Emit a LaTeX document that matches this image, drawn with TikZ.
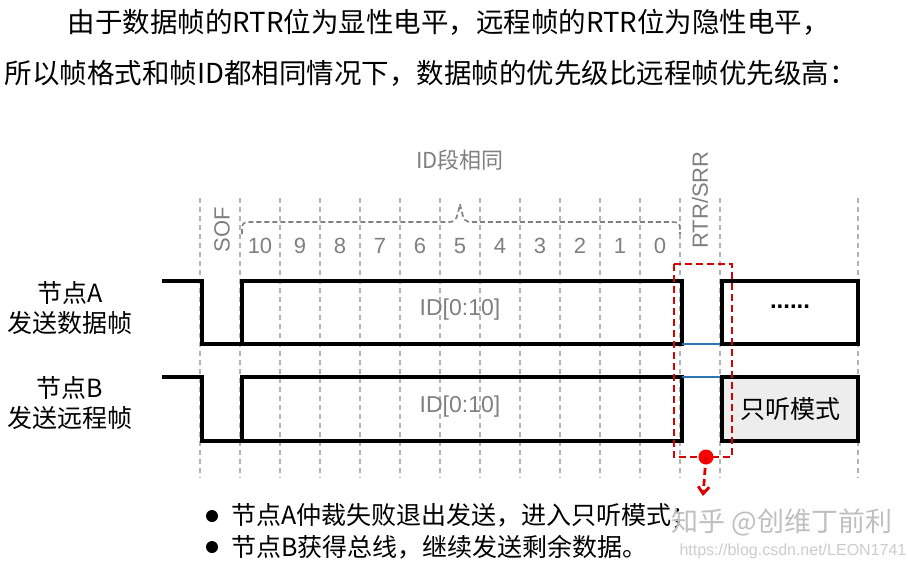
\documentclass[tikz,border=0pt]{standalone}
\usepackage{fontspec}
\setmainfont{Liberation Sans}
\newfontfamily\cjk{Noto Sans CJK SC}
\usetikzlibrary{arrows.meta}
\definecolor{lineblue}{RGB}{46,117,182}
\begin{document}
\begin{tikzpicture}[x=1pt,y=-1pt,
  grid/.style={draw=black!30,dash pattern=on 5pt off 4pt,line width=1.4pt},
  wave/.style={draw=black,line width=3.6pt,line join=miter},
  lbl/.style={font=\fontsize{25}{30}\selectfont\cjk},
  gtxt/.style={text=black!50,font=\fontsize{22}{24}\selectfont},
  redd/.style={draw=red!85!black,dash pattern=on 7pt off 4pt,line width=2.8pt}]
\useasboundingbox (0,0) rectangle (908,568);
\fill[white] (0,0) rectangle (908,568);
% title
\node[lbl,font=\fontsize{27.5}{30}\selectfont\cjk,anchor=west] (t1) at (64,22) {由于数据帧的RTR位为显性电平，远程帧的RTR位为隐性电平，};
\node[lbl,font=\fontsize{27.5}{30}\selectfont\cjk,anchor=west] (t2) at (1,73) {所以帧格式和帧ID都相同情况下，数据帧的优先级比远程帧优先级高：};
% grid
\foreach \x in {200,240,...,720,858} \draw[grid] (\x,198) -- (\x,478);
% bit labels
\foreach \n [count=\i from 0] in {10,9,8,7,6,5,4,3,2,1,0}
  \node[gtxt] (b\i) at (260+40*\i,246) {\n};
\node[gtxt,rotate=90] (sof) at (222,230) {SOF};
\node[gtxt,rotate=90] (rtr) at (700,200) {RTR/SRR};
% brace
\draw[draw=black!50,dash pattern=on 5pt off 3pt,line width=1.6pt] (242,234) .. controls (242,222) .. (254,222) -- (446,222) .. controls (456,222) .. (460,204) .. controls (464,222) .. (474,222) -- (668,222) .. controls (680,222) .. (680,234);
\node[gtxt,font=\fontsize{22}{24}\selectfont\cjk] (idsame) at (460,160) {ID段相同};
% row A
\node[lbl,align=center] (na) at (70,308) {节点A\\发送数据帧};
\draw[wave] (162,281) -- (202,281) -- (202,344) -- (682,344) -- (682,281) -- (242,281) -- (242,344);
\draw[draw=lineblue,line width=2.6pt] (682,344) -- (722,344);
\draw[wave] (722,281) rectangle (858,344);
\node[gtxt,font=\fontsize{23}{25}\selectfont] (ida) at (460,310) {ID[0:10]};
\node[font=\fontsize{24}{26}\selectfont\bfseries] (dots) at (790,307) {......};
% row B
\node[lbl,align=center] (nb) at (70,403) {节点B\\发送远程帧};
\draw[wave] (162,377) -- (202,377) -- (202,441) -- (682,441) -- (682,377) -- (242,377) -- (242,441);
\draw[draw=lineblue,line width=2.6pt] (682,377) -- (722,377);
\draw[wave,fill=black!7] (722,377) rectangle (858,441);
\node[lbl] (listen) at (790,409) {只听模式};
\node[gtxt,font=\fontsize{23}{25}\selectfont] (idb) at (460,407) {ID[0:10]};
% red highlight
\draw[redd] (674,264) rectangle (732,457);
\fill[red] (706,457) circle (7.5);
\coordinate (dot) at (706,457);
\coordinate (arr) at (703,496);
\draw[redd,-{Straight Barb[length=7pt,width=11pt]}] (dot) -- (arr);
% bullets
\fill (212,516) circle (6);
\fill (212,547) circle (6);
\node[lbl,anchor=west] (l1) at (228,516) {节点A仲裁失败退出发送，进入只听模式；};
\node[lbl,anchor=west] (l2) at (228,547) {节点B获得总线，继续发送剩余数据。};
% watermark
\node[text=black!25,font=\fontsize{27}{29}\selectfont\cjk,anchor=west] (wm) at (668,522) {知乎 @创维丁前利};
\node[text=black!20,font=\fontsize{16}{18}\selectfont,anchor=west] (wm2) at (676,551) {https://blog.csdn.net/LEON1741};
\end{tikzpicture}
\end{document}
